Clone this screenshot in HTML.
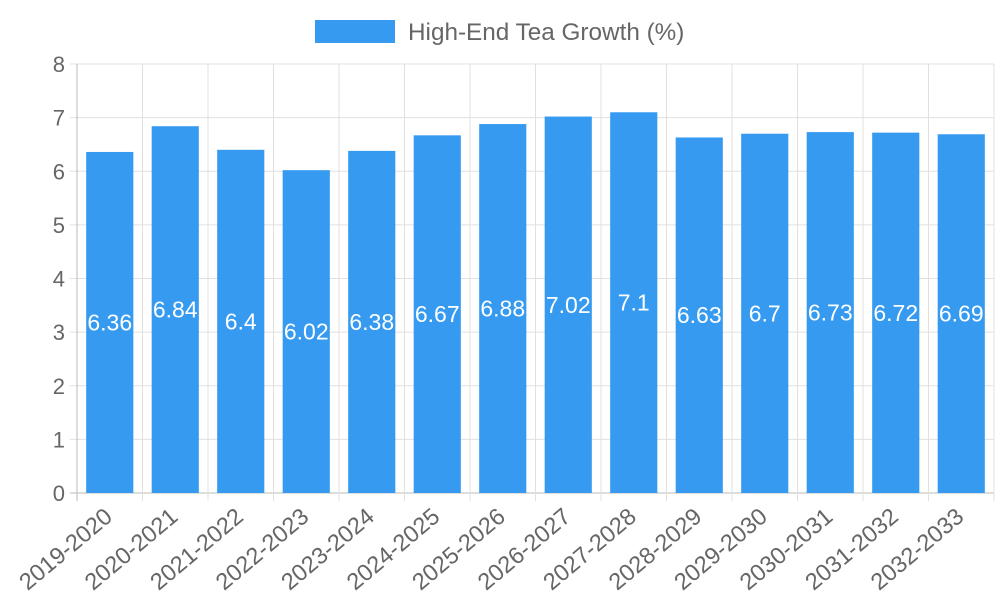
<!DOCTYPE html>
<html><head><meta charset="utf-8"><style>
html,body{margin:0;padding:0;background:#fff;}
svg{display:block;font-family:"Liberation Sans",sans-serif;}
</style></head><body>
<svg id="chart" width="1000" height="600"></svg>
<script>
const categories=["2019-2020","2020-2021","2021-2022","2022-2023","2023-2024","2024-2025","2025-2026","2026-2027","2027-2028","2028-2029","2029-2030","2030-2031","2031-2032","2032-2033"];
const values=[6.36,6.84,6.4,6.02,6.38,6.67,6.88,7.02,7.1,6.63,6.7,6.73,6.72,6.69];
const yTicks=[0,1,2,3,4,5,6,7,8];
const seriesName="High-End Tea Growth (%)";
const NS="http://www.w3.org/2000/svg";
const svg=document.getElementById('chart');
const L=77,R=994,T=64,B=493,yMax=8;
const band=(R-L)/categories.length;
const y=v=>B-(v/yMax)*(B-T);
const x=i=>L+i*band;
function mk(tag,attrs,parent){const e=document.createElementNS(NS,tag);for(const k in attrs)e.setAttribute(k,attrs[k]);(parent||svg).appendChild(e);return e;}
const grid=mk('g',{});


yTicks.forEach(t=>{
  mk('line',{x1:L-7,x2:R,y1:y(t),y2:y(t),stroke:t===0?'#bbb':'#e0e0e0','stroke-width':1},grid);
  const tx=mk('text',{x:L-12,y:y(t)+8,'text-anchor':'end','font-size':22,fill:'#666'});
  tx.textContent=t;
  
  
});
for(let i=0;i<=categories.length;i++){
  mk('line',{x1:x(i),x2:x(i),y1:T,y2:B+8,stroke:i===0?'#bbb':'#e0e0e0','stroke-width':1},grid);
}
categories.forEach((c,i)=>{
  const bw=band*0.72;
  const bx=x(i)+(band-bw)/2;
  const r=mk('rect',{x:bx,y:y(values[i]),width:bw,height:B-y(values[i]),fill:'#369BF0'});
  
  
  const lt=mk('text',{x:bx+bw/2,y:(y(values[i])+B)/2+8,'text-anchor':'middle','font-size':23,fill:'#fff'});
  lt.textContent=values[i];
  
  
  const cx=x(i)+band/2+4, cy=B+26;
  const xt=mk('text',{x:cx,y:cy,'text-anchor':'end','font-size':23.5,fill:'#666',transform:`rotate(-40 ${cx} ${cy})`});
  xt.textContent=c;
  
  
});
const lg=mk('g',{});


mk('rect',{x:315,y:20,width:80,height:23,fill:'#369BF0'},lg);
const ltx=mk('text',{x:408,y:40,'font-size':24.3,fill:'#666'},lg);
ltx.textContent=seriesName;
</script>
</body></html>
